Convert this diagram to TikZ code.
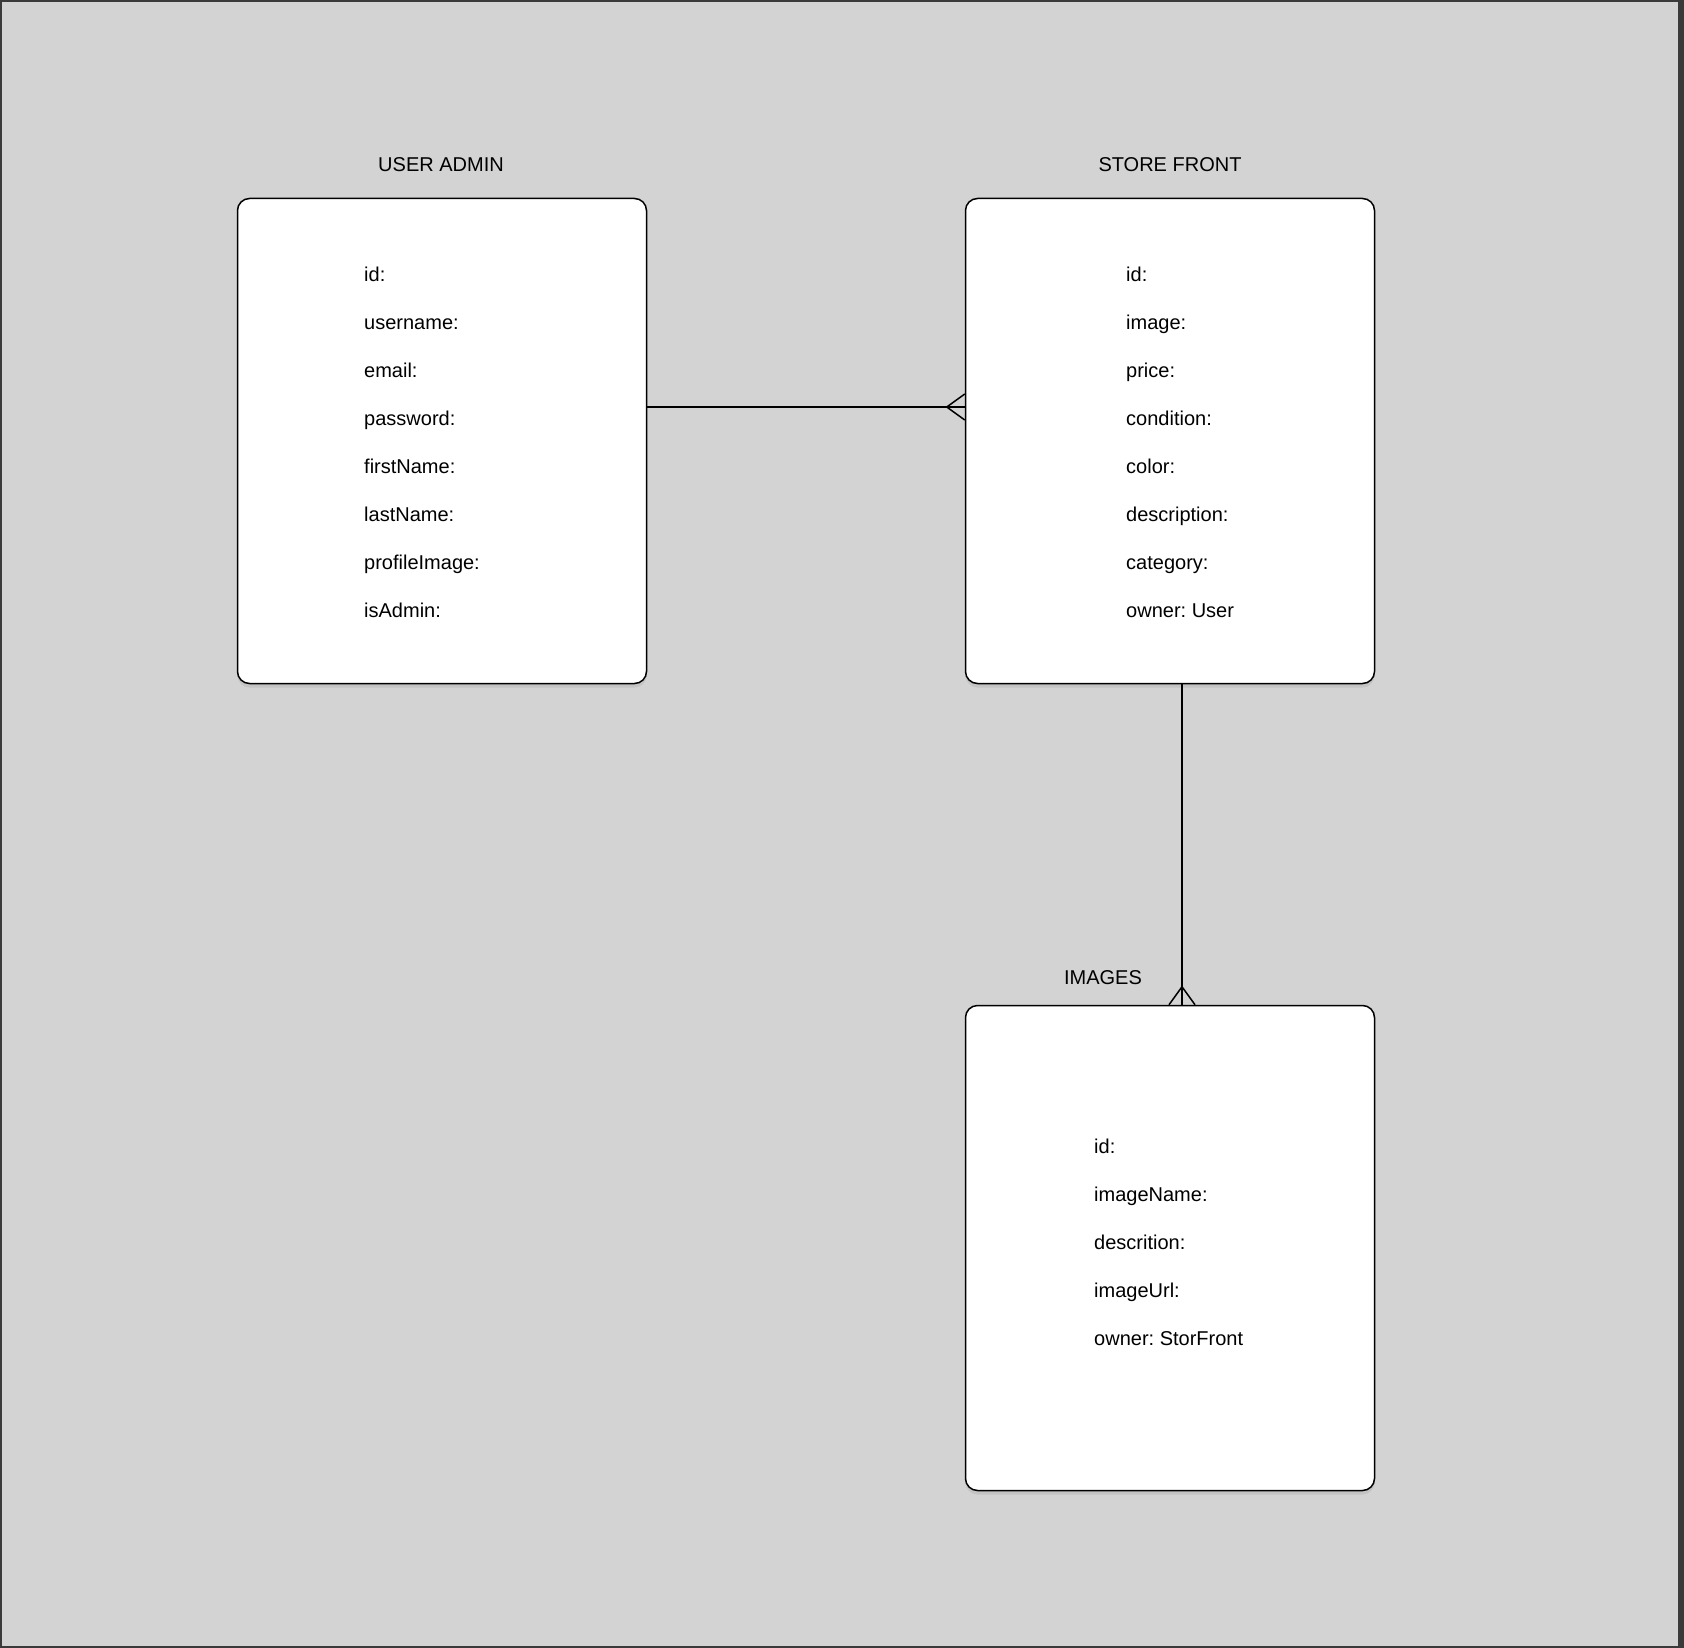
\documentclass[tikz,border=0pt]{standalone}
\usepackage{fontspec}
\setmainfont{Liberation Sans}
\usetikzlibrary{calc,shadows}
\definecolor{canvasgray}{RGB}{211,211,211}
\definecolor{framedark}{RGB}{58,58,58}
\tikzset{
  entity/.style={draw=black,line width=1.5pt,fill=white,rounded corners=12pt,
    minimum width=409pt,minimum height=485pt,
    drop shadow={shadow xshift=0pt,shadow yshift=-4pt,opacity=0.18}},
  attr/.style={anchor=west,inner sep=0pt,text height=15pt,text depth=0pt,
    font=\fontsize{20}{24}\selectfont},
  title/.style={inner sep=0pt,font=\fontsize{20}{24}\selectfont},
  rel/.style={line width=1.5pt,black}
}
\frenchspacing
\begin{document}
\begin{tikzpicture}[x=1pt,y=-1pt]
  \useasboundingbox (0,0) rectangle (1684,1648);
  \fill[framedark] (0,0) rectangle (1684,1648);
  \fill[canvasgray] (2,2) rectangle (1678,1646);

  % entities
  \node[entity] (ua) at (442,441) {};
  \node[entity] (sf) at (1170,441) {};
  \node[entity] (img) at (1170,1248) {};

  \node[title] (uatitle) at (441,165) {USER ADMIN};
  \node[title] (sftitle) at (1170,165) {STORE FRONT};
  \node[title] (imgtitle) at (1103,978) {IMAGES};

  \foreach \t [count=\i] in {id:,username:,email:,password:,firstName:,lastName:,profileImage:,isAdmin:}
    \node[attr] (ua\i) at (364,274+48*\i-48) {\t};
  \foreach \t [count=\i] in {id:,image:,price:,condition:,color:,description:,category:,owner: User}
    \node[attr] (sf\i) at (1126,274+48*\i-48) {\t};
  \foreach \t [count=\i] in {id:,imageName:,descrition:,imageUrl:,owner: StorFront}
    \node[attr] (img\i) at (1094,1146+48*\i-48) {\t};

  % relations (one to many)
  \coordinate (r1a) at ($(ua.east)+(0,-34)$);
  \coordinate (r1b) at ($(sf.west)+(0,-34)$);
  \draw[rel] (r1a) -- (r1b);
  \draw[rel] ($(r1b)+(0,-13)$) -- ($(r1b)+(-18,0)$) -- ($(r1b)+(0,13)$);

  \coordinate (r2a) at ($(sf.south)+(12,0)$);
  \coordinate (r2b) at ($(img.north)+(12,0)$);
  \draw[rel] (r2a) -- (r2b);
  \draw[rel] ($(r2b)+(-13,0)$) -- ($(r2b)+(0,-18)$) -- ($(r2b)+(13,0)$);
\end{tikzpicture}
\end{document}
